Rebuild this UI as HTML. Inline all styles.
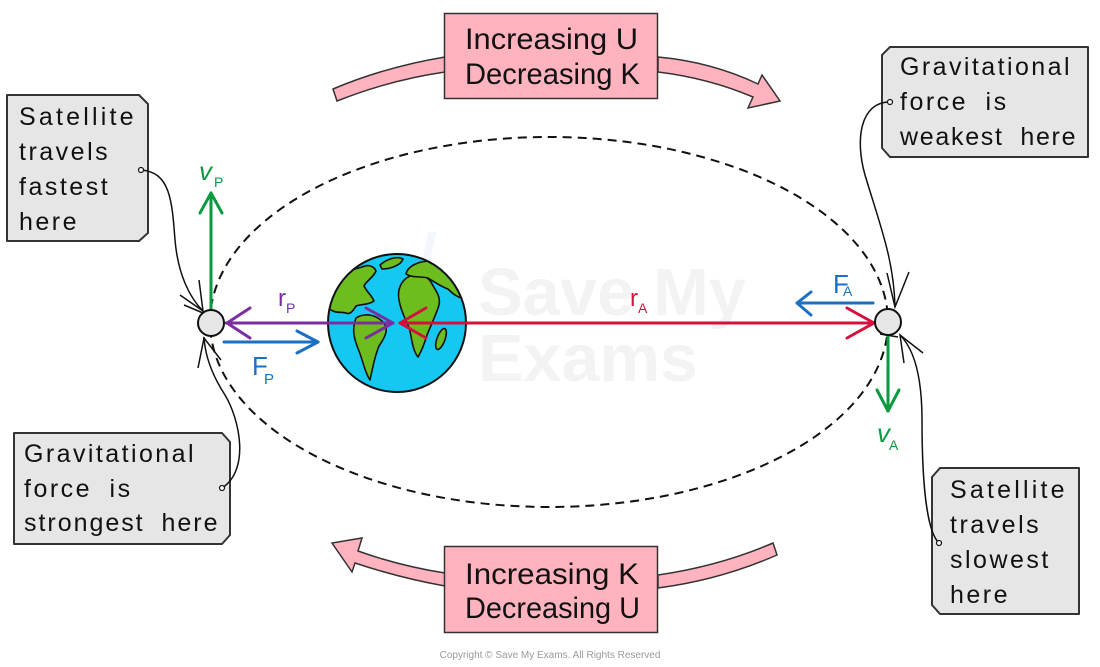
<!DOCTYPE html>
<html>
<head>
<meta charset="utf-8">
<style>
html,body{margin:0;padding:0;background:#fff;}
svg{display:block;}
</style>
</head>
<body>
<svg width="1100" height="667" viewBox="0 0 1100 667" xmlns="http://www.w3.org/2000/svg">
  <!-- watermark -->
  <g font-family="Liberation Sans, sans-serif" font-weight="bold" fill="#f3f3f3">
    <text x="478" y="315" font-size="67" textLength="268" lengthAdjust="spacingAndGlyphs">Save My</text>
    <text x="478" y="381" font-size="67" textLength="220" lengthAdjust="spacingAndGlyphs">Exams</text>
  </g>
  <!-- faint streak -->
  <polygon points="428,232 436,232 404,395 396,395" fill="#f3f6fd"/>

  <!-- dashed orbit -->
  <ellipse cx="549" cy="322" rx="339" ry="185" fill="none" stroke="#111" stroke-width="2" stroke-dasharray="9 6"/>

  <!-- pink arrows -->
  <g fill="#ffb3be" stroke="#333" stroke-width="1.5" stroke-linejoin="miter">
    <path d="M333,89 Q385,67 445,57 L445,72 Q390,80 337,101 Z"/>
    <path d="M658,57 Q712,62 758,84 L762,75 L780,101 L748,108 L753,97 Q708,78 658,72 Z"/>
    <path d="M445,573 Q400,566 358,551 L362,538 L332,543 L352,572 L355,563 Q400,578 445,586 Z"/>
    <path d="M658,575 Q720,566 773,543 L777,555 Q720,580 658,588 Z"/>
    <rect x="444.5" y="13.5" width="213" height="85"/>
    <rect x="444.5" y="546.5" width="213" height="86"/>
  </g>
  <g font-family="Liberation Sans, sans-serif" font-size="30" fill="#111">
    <text x="465" y="49" textLength="173" lengthAdjust="spacingAndGlyphs">Increasing U</text>
    <text x="465" y="84" textLength="175" lengthAdjust="spacingAndGlyphs">Decreasing K</text>
    <text x="465" y="584" textLength="174" lengthAdjust="spacingAndGlyphs">Increasing K</text>
    <text x="465" y="618" textLength="175" lengthAdjust="spacingAndGlyphs">Decreasing U</text>
  </g>

  <!-- Earth -->
  <defs>
    <clipPath id="ec"><circle cx="397" cy="323" r="68"/></clipPath>
  </defs>
  <circle cx="397" cy="323" r="69" fill="#14c8f2"/>
  <g clip-path="url(#ec)" fill="#6dbd1e" stroke="#111" stroke-width="1.6" stroke-linejoin="round">
    <path d="M326,306 C330,290 340,278 352,270 L362,267 C368,264 374,266 376,271 C373,278 366,281 364,286 C367,292 372,296 374,301 C369,305 361,304 356,306 C353,311 350,315 346,313 C340,311 335,315 326,306 Z"/>
    <path d="M380,265 C388,258 398,256 403,259 C401,265 391,269 382,269 Z"/>
    <path d="M356,318 C365,312 376,315 383,322 C389,328 386,336 379,346 C375,356 373,366 370,380 C365,373 363,361 359,351 C355,341 351,331 356,318 Z"/>
    <path d="M399,300 C397,290 401,280 410,276 C418,272 426,275 431,282 C435,290 441,296 439,305 C436,315 431,325 427,335 C424,345 421,352 418,357 C413,351 412,341 410,331 C408,323 401,313 399,300 Z"/>
    <path d="M406,274 C408,265 420,261 431,261 C442,261 452,267 457,274 C462,282 465,290 470,300 C458,299 452,293 448,289 C442,287 436,283 428,278 C420,276 412,278 406,274 Z"/>
    <ellipse cx="441" cy="339" rx="4" ry="11" transform="rotate(20 441 339)"/>
  </g>
  <circle cx="397" cy="323" r="69" fill="none" stroke="#111" stroke-width="2"/>

  <!-- callout boxes -->
  <g fill="#e6e6e6" stroke="#333" stroke-width="2" stroke-linejoin="round">
    <polygon points="7,95 139,95 148,104 148,233 139,241 7,241"/>
    <polygon points="890,47 1088,47 1088,157 890,157 882,148 882,55"/>
    <polygon points="14,433 222,433 230,442 230,535 222,544 14,544"/>
    <polygon points="940,468 1079,468 1079,614 940,614 932,605 932,477"/>
  </g>
  <g font-family="Liberation Sans, sans-serif" font-size="25" fill="#111" letter-spacing="2.5" word-spacing="8">
    <text x="19" y="125" textLength="117">Satellite</text>
    <text x="19" y="160">travels</text>
    <text x="19" y="195">fastest</text>
    <text x="19" y="230">here</text>

    <text x="900" y="75" textLength="172">Gravitational</text>
    <text x="900" y="110">force  is</text>
    <text x="900" y="145" textLength="178">weakest  here</text>

    <text x="24" y="462" textLength="172">Gravitational</text>
    <text x="24" y="497">force  is</text>
    <text x="24" y="531" textLength="196">strongest  here</text>

    <text x="950" y="498" textLength="117">Satellite</text>
    <text x="950" y="533">travels</text>
    <text x="950" y="568">slowest</text>
    <text x="950" y="603">here</text>
  </g>

  <!-- connectors -->
  <g fill="none" stroke="#111" stroke-width="1.5">
    <path d="M141,170 C170,172 172,200 175,240 C178,275 190,298 203,311"/>
    <path d="M180,295 L203,311 L199,280"/>
    <path d="M222,488 C250,470 240,420 225,395 C212,375 205,355 204,337"/>
    <path d="M198,368 L204,338 L221,360"/>
    <path d="M890,102 C860,102 855,140 865,175 C880,225 894,260 895,307"/>
    <path d="M887,273 L895,307 L909,272"/>
    <path d="M939,543 C925,530 922,470 922,420 C922,380 915,350 900,335"/>
    <path d="M923,353 L900,335 L904,363"/>
    <path d="M184,305 L203,313"/>
    <path d="M880,334 L898,337" />
  </g>
  <g fill="#fff" stroke="#111" stroke-width="1.2">
    <circle cx="141" cy="170" r="2.5"/>
    <circle cx="890" cy="102" r="2.5"/>
    <circle cx="222" cy="488" r="2.5"/>
    <circle cx="939" cy="543" r="2.5"/>
  </g>

  <!-- vectors -->
  <g fill="none" stroke-width="3" stroke-linecap="round" stroke-linejoin="round">
    <path d="M211,310 L211,193" stroke="#0a9a40"/>
    <path d="M200,213 L211,193 L222,213" stroke="#0a9a40"/>
    <path d="M226,323 L393,323" stroke="#7b2ea0"/>
    <path d="M250,308 L227,323 L250,338" stroke="#7b2ea0"/>
    <path d="M366,308 L393,323 L366,338" stroke="#7b2ea0"/>
    <path d="M400,323 L874,323" stroke="#d6103c"/>
    <path d="M426,308 L400,323 L426,338" stroke="#d6103c"/>
    <path d="M847,308 L874,323 L847,338" stroke="#d6103c"/>
    <path d="M224,342 L318,342" stroke="#1a70c2"/>
    <path d="M297,331 L318,342 L297,353" stroke="#1a70c2"/>
    <path d="M873,303 L797,303" stroke="#1a70c2"/>
    <path d="M811,292 L797,303 L811,315" stroke="#1a70c2"/>
    <path d="M888,337 L888,411" stroke="#0a9a40"/>
    <path d="M877,390 L888,411 L899,390" stroke="#0a9a40"/>
  </g>

  <!-- satellites -->
  <circle cx="211" cy="323" r="13" fill="#e6e6e6" stroke="#111" stroke-width="2"/>
  <circle cx="888" cy="322" r="13" fill="#e6e6e6" stroke="#111" stroke-width="2"/>

  <!-- vector labels -->
  <g font-family="Liberation Sans, sans-serif">
    <text x="199" y="180" font-size="26" font-style="italic" fill="#0a9a40">v</text>
    <text x="214" y="187" font-size="14" fill="#0a9a40">P</text>
    <text x="877" y="442" font-size="26" font-style="italic" fill="#0a9a40">v</text>
    <text x="889" y="450" font-size="14" fill="#0a9a40">A</text>

    <text x="278" y="306" font-size="24" fill="#7b2ea0">r</text>
    <text x="286" y="313" font-size="14" fill="#7b2ea0">P</text>
    <text x="630" y="306" font-size="24" fill="#d6103c">r</text>
    <text x="638" y="313" font-size="14" fill="#d6103c">A</text>

    <text x="252" y="375" font-size="26" fill="#1a70c2">F</text>
    <text x="264" y="384" font-size="15" fill="#1a70c2">P</text>
    <text x="833" y="293" font-size="26" fill="#1a70c2">F</text>
    <text x="843" y="296" font-size="14" fill="#1a70c2">A</text>
  </g>

  <text x="550" y="658" text-anchor="middle" font-family="Liberation Sans, sans-serif" font-size="10" fill="#9a9a9a">Copyright © Save My Exams. All Rights Reserved</text>
</svg>
</body>
</html>
